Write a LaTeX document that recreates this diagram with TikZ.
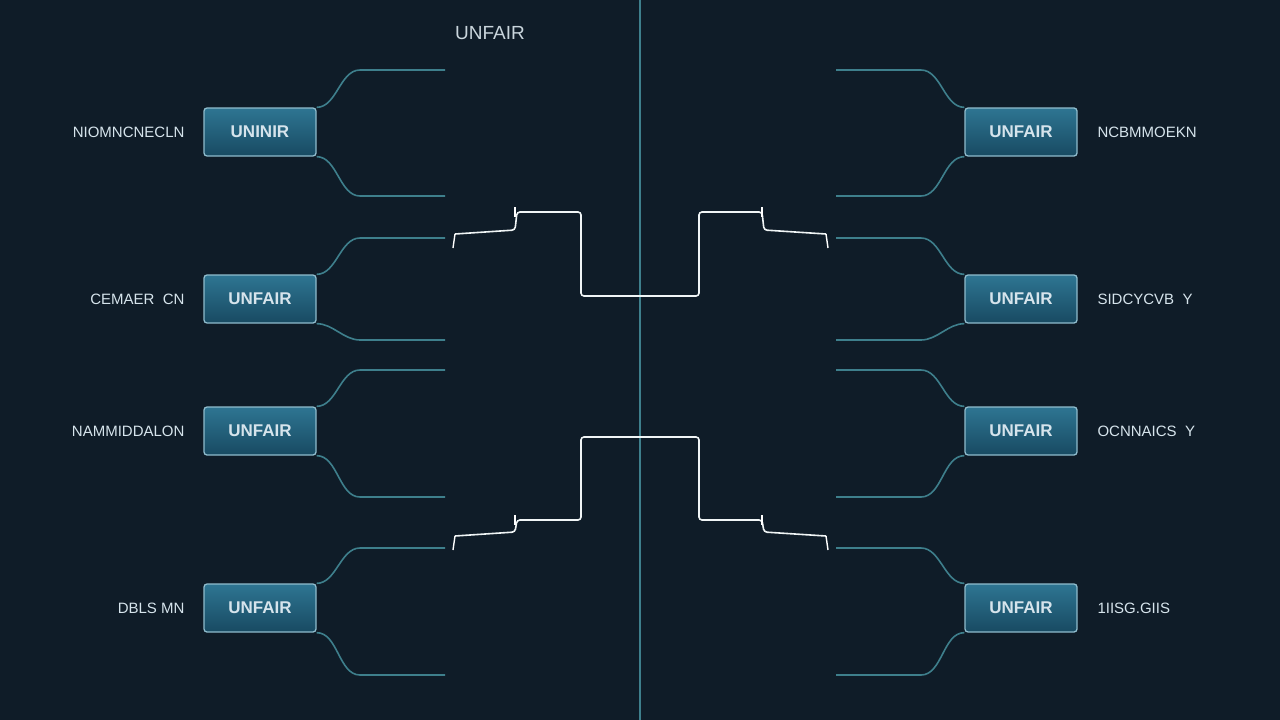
\documentclass[tikz,border=0pt]{standalone}
\usepackage{fontspec}
\setmainfont{Liberation Sans}
\definecolor{bg}{HTML}{0F1C28}
\definecolor{teal}{HTML}{3E7F8C}
\definecolor{boxtop}{HTML}{2E7592}
\definecolor{boxbot}{HTML}{184A62}
\definecolor{boxedge}{HTML}{8FBCCD}
\definecolor{txt}{HTML}{D6E4EC}
\tikzset{
  ubox/.style={draw=boxedge, line width=1.3pt, rounded corners=3pt, top color=boxtop, bottom color=boxbot, minimum width=112pt, minimum height=48pt, text=txt, font=\bfseries\fontsize{17}{20}\selectfont},
  lab/.style={text=txt, font=\fontsize{15}{18}\selectfont},
  br/.style={draw=teal, line width=1.6pt},
  wl/.style={draw=white!92!teal, line width=1.6pt, rounded corners=3pt},
  tick/.style={draw=white, line width=1.4pt}
}
\begin{document}
\begin{tikzpicture}[x=1pt,y=-1pt]
\fill[bg] (0,0) rectangle (1280,720);
\useasboundingbox (0,0) rectangle (1280,720);
\coordinate (ctop) at (640,0); \coordinate (cbot) at (640,720);
\draw[teal, line width=1.8pt] (ctop) -- (cbot);
\node[text=txt!85!gray, font=\fontsize{19}{22}\selectfont] (title) at (490,33) {UNFAIR};
% left boxes
\foreach \n/\y/\t/\l/\u/\d in {L1/132/UNINIR/NIOMNCNECLN/70/196, L2/299/UNFAIR/CEMAER\ \ CN/238/340, L3/431/UNFAIR/NAMMIDDALON/370/497, L4/608/UNFAIR/DBLS\ MN/548/675}{
  \node[ubox] (\n) at (260,\y) {\t};
  \node[lab, anchor=east] (\n lab) at (188,\y) {\l};
  \coordinate (\n u) at (445,\u); \coordinate (\n d) at (445,\d);
  \draw[br] (\n.north east) to[out=0,in=180,looseness=0.9] ([xshift=-85pt]\n u) -- (\n u);
  \draw[br] (\n.south east) to[out=0,in=180,looseness=0.9] ([xshift=-85pt]\n d) -- (\n d);
}
% right boxes
\foreach \n/\y/\l/\u/\d in {R1/132/NCBMMOEKN/70/196, R2/299/SIDCYCVB\ \ Y/238/340, R3/431/OCNNAICS\ \ Y/370/497, R4/608/1IISG.GIIS/548/675}{
  \node[ubox] (\n) at (1021,\y) {UNFAIR};
  \node[lab, anchor=west] (\n lab) at (1094,\y) {\l};
  \coordinate (\n u) at (836,\u); \coordinate (\n d) at (836,\d);
  \draw[br] (\n.north west) to[out=180,in=0,looseness=0.9] ([xshift=85pt]\n u) -- (\n u);
  \draw[br] (\n.south west) to[out=180,in=0,looseness=0.9] ([xshift=85pt]\n d) -- (\n d);
}
% white connectors
\coordinate (hubA) at (640,296);
\coordinate (hubB) at (640,437);
\coordinate (la) at (455,234); \coordinate (ra) at (826,234);
\coordinate (lb) at (455,536); \coordinate (rb) at (826,536);
\draw[wl] (la) -- (515,230) -- (517,212) -- (581,212) -- (581,296) -- (hubA);
\draw[wl] (hubA) -- (699,296) -- (699,212) -- (762,212) -- (764,230) -- (ra);
\draw[wl] (hubB) -- (581,437) -- (581,520) -- (517,520) -- (515,532) -- (lb);
\draw[wl] (hubB) -- (699,437) -- (699,520) -- (762,520) -- (764,532) -- (rb);
\foreach \p in {la,lb}{\draw[tick] (\p) -- ++(-2,14);}
\foreach \p in {ra,rb}{\draw[tick] (\p) -- ++(2,14);}
\foreach \x/\y in {515/207,762/207,515/515,762/515}{\draw[tick] (\x,\y) -- (\x,\y+10);}
\end{tikzpicture}
\end{document}
